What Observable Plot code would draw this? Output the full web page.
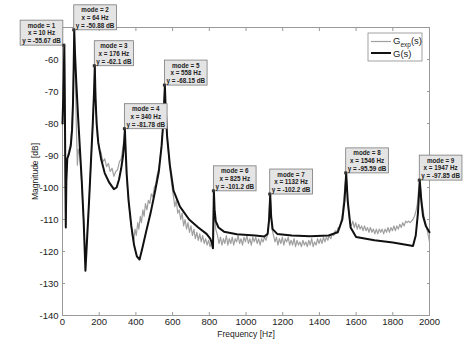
<!DOCTYPE html>
<html><head><meta charset="utf-8">
<script src="https://cdn.jsdelivr.net/npm/d3@7"></script>
<script src="https://cdn.jsdelivr.net/npm/@observablehq/plot@0.6"></script>
<style>
html,body{margin:0;padding:0;background:#fff;}
svg{overflow:visible;}
</style></head>
<body>
<div id="chart"></div>
<script>
// Model G(s)
const gFreq = [0,4,7,10,13,16,18,21,26,35,45,52,57,61,64,68,75,85,95,105,115,125,135,145,155,165,172,176,180,186,195,210,230,255,280,295,308,320,330,336,340,344,350,360,375,390,405,420,435,455,480,505,525,540,550,555,558,562,570,585,605,640,690,740,785,805,815,820,825,829,835,850,880,950,1050,1100,1118,1126,1132,1137,1145,1170,1250,1350,1450,1500,1525,1537,1546,1554,1570,1600,1700,1800,1880,1910,1925,1937,1947,1955,1965,1980,2000];
const gMag = [-80,-72,-65,-55.67,-75,-100,-112.5,-98,-91,-89.5,-87,-82,-74,-62,-50.88,-58,-67,-78,-88,-98,-110,-126,-115,-104,-92,-80,-70,-62.1,-72,-80,-86,-91,-95.5,-98.5,-100.5,-100,-97.5,-94,-90,-86,-81.78,-88,-96,-104,-112,-118,-121.5,-122.5,-119,-114,-108,-101,-95,-87,-79,-72,-68.15,-75,-84,-93,-101,-106,-110,-112.5,-114.5,-116,-117.5,-119,-101.2,-107,-110.5,-112.5,-113.8,-114.6,-115,-115.3,-114.5,-110,-102.2,-109,-113,-114.5,-115,-115.2,-115,-114,-110,-104,-95.59,-104,-112.5,-115.5,-116.5,-117.2,-118,-118.3,-115,-108,-97.85,-104,-109,-112,-114];

// Measured G_exp(s)
const eFreq = [0,4,7,10,13,16,18,21,26,35,45,52,57,61,64,70,76,81,86,95,105,115,125,135,145,155,165,172,176,180,186,190,200,210,220,230,240,250,260,270,280,290,300,310,320,328,335,340,344,350,360,370,380,388,395,402,410,416,424,430,438,445,452,460,468,476,484,492,500,508,516,525,540,550,555,558,562,570,585,595,605,612,620,628,636,644,652,660,668,676,684,692,700,708,716,724,732,740,748,756,764,772,780,788,796,804,812,818,822,825,829,835,845,853,861,869,877,885,893,901,909,917,925,933,941,949,957,965,973,981,989,997,1005,1013,1021,1029,1037,1045,1053,1061,1069,1077,1085,1093,1101,1109,1116,1122,1127,1132,1137,1142,1150,1158,1166,1174,1182,1190,1198,1206,1214,1222,1230,1238,1246,1254,1262,1270,1278,1286,1294,1302,1310,1318,1326,1334,1342,1350,1358,1366,1374,1382,1390,1398,1406,1414,1422,1430,1438,1446,1454,1462,1470,1478,1486,1494,1502,1510,1518,1526,1534,1540,1546,1552,1558,1566,1574,1582,1590,1598,1606,1614,1622,1630,1638,1646,1654,1662,1670,1678,1686,1694,1702,1710,1718,1726,1734,1742,1750,1758,1766,1774,1782,1790,1798,1806,1814,1822,1830,1838,1846,1854,1862,1870,1878,1886,1894,1902,1910,1918,1926,1934,1940,1947,1953,1960,1970,1980,1990,2000];
const eMag = [-80,-72,-65,-55.67,-76,-98,-108,-97,-91,-88.5,-86,-81,-73,-62,-51.5,-66,-82,-93,-88,-90,-99,-110,-122,-114,-104,-92,-80,-70,-62.5,-71,-79,-84,-88,-89,-92,-91,-93.5,-92.5,-95,-94,-96.5,-95,-94.5,-92,-91,-88,-85,-81.78,-89,-97,-104,-110,-115,-117,-113,-115,-111,-113,-109,-111,-107,-109,-105,-107,-104,-105,-102,-103,-100,-99,-96,-94,-87,-79,-72,-68.5,-75,-84,-94,-99,-103,-106,-104,-108,-107,-110,-108,-112,-110,-113,-111,-114,-112,-115,-113,-116,-114,-116.5,-114.5,-117,-115,-117.5,-116,-118,-116.5,-118.5,-117,-119,-110,-101.5,-108,-113,-115,-117.5,-115.5,-118,-116,-117.5,-115,-118,-116,-117.5,-115.5,-118,-116,-117,-115,-117.5,-116,-118,-115.5,-117,-115,-117.5,-116,-118,-115.5,-117,-115.5,-117.5,-116,-118,-116,-117,-115.5,-116.5,-115,-112,-107,-102.5,-108,-113,-115,-117,-115.5,-118,-116,-117.5,-115.5,-118,-116,-117,-115.5,-118,-116.5,-118,-116,-118.5,-116.5,-118,-117,-118.5,-116.5,-118,-117,-118.5,-116.5,-118,-116,-118.5,-117,-118,-116,-117.5,-116,-117.5,-115.5,-117,-115.5,-116.5,-115,-116,-114.5,-115,-113.5,-114,-112.5,-112.5,-110.5,-108,-103,-99,-96,-101,-107,-111,-112,-110.5,-112.5,-111,-113,-111.5,-113,-112,-113.5,-112,-113.5,-112.5,-114,-112.5,-114,-113,-114.5,-113,-114.5,-113,-114,-113,-114.5,-113,-114,-112.5,-114,-112.5,-113.5,-112,-113.5,-112,-113,-111.5,-112.5,-111,-112,-110.5,-111,-110.5,-111,-110.5,-110,-109,-107.5,-105,-101,-98,-101,-105,-109,-111.5,-114,-117];

const xTicks = [0,200,400,600,800,1000,1200,1400,1600,1800,2000];
const yTicks = [-140,-130,-120,-110,-100,-90,-80,-70,-60,-50];
const yTickLabels = [-140,-130,-120,-110,-100,-90,-80,-70,-60];

// Data tips
const tipMode = [1,2,3,4,5,6,7,8,9];
const tipFreq = [10,64,176,340,558,825,1132,1546,1947];
const tipMag = [-55.67,-50.88,-62.1,-81.78,-68.15,-101.2,-102.2,-95.59,-97.85];
const tipLabelY = ["-55.67","-50.88","-62.1","-81.78","-68.15","-101.2","-102.2","-95.59","-97.85"];
const tipSide = ["left","right","right","right","right","right","right","right","right"];

const model = gFreq.map((f,i)=>({f, m:gMag[i]}));
const meas = eFreq.map((f,i)=>({f, m:eMag[i]}));

const FONT = "'Liberation Sans', Arial, sans-serif";
const axisColor = "#9a9a9a";
const plot = Plot.plot({
  width: 474, height: 353,
  marginLeft: 62, marginRight: 45, marginTop: 27, marginBottom: 38,
  style: {fontFamily: FONT, fontSize: "9px", color: "#222", background: "#fff", overflow: "visible"},
  x: {domain: [0, 2000], ticks: xTicks},
  y: {domain: [-140, -50], ticks: yTicks},
  marks: [
    Plot.frame({stroke: axisColor, strokeWidth: 1}),
    Plot.axisX({anchor: "bottom", ticks: xTicks, tickSize: 0, tickPadding: 3, tickFormat: d=>String(d), fill: "#222", fontSize: 9.5, label: null}),
    Plot.axisX({anchor: "bottom", ticks: [], tickSize: 0, label: "Frequency [Hz]", labelAnchor: "center", labelArrow: "none", labelOffset: 21, fontSize: 8.5, fill: "#222"}),
    Plot.axisX({anchor: "bottom", ticks: xTicks, tickSize: -3, text: null, label: null, stroke: axisColor}),
    Plot.axisX({anchor: "top", ticks: xTicks, tickSize: -3, text: null, label: null, stroke: axisColor}),
    Plot.axisY({anchor: "left", ticks: yTickLabels, tickSize: 0, tickPadding: 4, tickFormat: d=>String(d), fill: "#222", fontSize: 9.5, label: null}),
    Plot.axisY({anchor: "left", ticks: [], tickSize: 0, label: "Magnitude [dB]", labelAnchor: "center", labelArrow: "none", labelOffset: 31, fontSize: 8.5, fill: "#222"}),
    Plot.axisY({anchor: "left", ticks: yTicks, tickSize: -3, text: null, label: null, stroke: axisColor}),
    Plot.axisY({anchor: "right", ticks: yTicks, tickSize: -3, text: null, label: null, stroke: axisColor}),
    Plot.line(meas, {x: "f", y: "m", stroke: "#a0a0a0", strokeWidth: 1.2}),
    Plot.line(model, {x: "f", y: "m", stroke: "#111", strokeWidth: 2, strokeLinejoin: "round"})
  ]
});
document.getElementById("chart").appendChild(plot);

const sx = plot.scale("x"), sy = plot.scale("y");
const svg = d3.select(plot);

// Data tips
tipMode.forEach((mode, i) => {
  const px = sx.apply(tipFreq[i]), py = sy.apply(tipMag[i]);
  const g = svg.append("g");
  const lines = [`mode = ${mode}`, `x = ${tipFreq[i]} Hz`, `y = ${tipLabelY[i]} dB`];
  const rect = g.append("rect").attr("fill", "#e4e4e4").attr("stroke", "#7a7a7a").attr("stroke-width", 0.8);
  const texts = lines.map((t, k) => g.append("text").text(t)
    .attr("font-family", FONT).attr("font-size", 6.3).attr("font-weight", "bold")
    .attr("fill", "#222").attr("text-anchor", "middle"));
  const w = Math.max(...texts.map(t => t.node().getComputedTextLength())) + 4;
  const h = 25;
  const x0 = tipSide[i] === "left" ? px - w - 1 : px;
  const y0 = py - h;
  rect.attr("x", x0).attr("y", y0).attr("width", w).attr("height", h);
  texts.forEach((t, k) => t.attr("x", x0 + w / 2).attr("y", y0 + 7.5 + k * 7.8));
  g.append("rect").attr("x", px - 1.5).attr("y", py - 1.5).attr("width", 3).attr("height", 3).attr("fill", "#333");
});

// Legend
const plotRight = 474 - 45, plotTop = 27;
const lg = svg.append("g").attr("transform", `translate(${plotRight - 61},${plotTop + 6})`);
lg.append("rect").attr("width", 54).attr("height", 28).attr("fill", "#fff").attr("stroke", "#8a8a8a").attr("stroke-width", 0.8);
lg.append("line").attr("x1", 3).attr("x2", 23).attr("y1", 8.5).attr("y2", 8.5).attr("stroke", "#a0a0a0").attr("stroke-width", 1.2);
lg.append("line").attr("x1", 3).attr("x2", 23).attr("y1", 20).attr("y2", 20).attr("stroke", "#111").attr("stroke-width", 2);
const t1 = lg.append("text").attr("x", 25).attr("y", 11).attr("font-family", FONT).attr("font-size", 9.5).attr("fill", "#222").attr("text-anchor", "start");
t1.append("tspan").text("G");
t1.append("tspan").text("exp").attr("font-size", 6.5).attr("dy", 2.5);
t1.append("tspan").text("(s)").attr("dy", -2.5);
lg.append("text").attr("x", 25).attr("y", 23.5).attr("font-family", FONT).attr("font-size", 9.5).attr("fill", "#222").attr("text-anchor", "start").text("G(s)");
</script>
</body></html>
